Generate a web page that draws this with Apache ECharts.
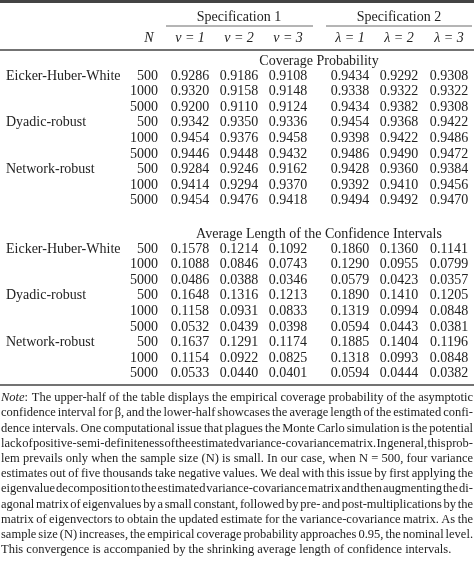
<!DOCTYPE html>
<html>
<head>
<meta charset="UTF-8">
<title>Coverage table</title>
<script src="https://cdn.jsdelivr.net/npm/echarts@6/dist/echarts.min.js"></script>
<style>body{margin:0;background:#fff}</style>
</head>
<body>
<div id="main" style="width:474px;height:568px;"></div>
<script type="text/javascript">
var estimators = ['Eicker-Huber-White', 'Dyadic-robust', 'Network-robust'];
var sizes = ['500', '1000', '5000'];
var colHeads = ['\u03bd = 1', '\u03bd = 2', '\u03bd = 3', '\u03bb = 1', '\u03bb = 2', '\u03bb = 3'];
var coverage = [
  ['0.9286','0.9186','0.9108','0.9434','0.9292','0.9308'],
  ['0.9320','0.9158','0.9148','0.9338','0.9322','0.9322'],
  ['0.9200','0.9110','0.9124','0.9434','0.9382','0.9308'],
  ['0.9342','0.9350','0.9336','0.9454','0.9368','0.9422'],
  ['0.9454','0.9376','0.9458','0.9398','0.9422','0.9486'],
  ['0.9446','0.9448','0.9432','0.9486','0.9490','0.9472'],
  ['0.9284','0.9246','0.9162','0.9428','0.9360','0.9384'],
  ['0.9414','0.9294','0.9370','0.9392','0.9410','0.9456'],
  ['0.9454','0.9476','0.9418','0.9494','0.9492','0.9470']
];
var avgLength = [
  ['0.1578','0.1214','0.1092','0.1860','0.1360','0.1141'],
  ['0.1088','0.0846','0.0743','0.1290','0.0955','0.0799'],
  ['0.0486','0.0388','0.0346','0.0579','0.0423','0.0357'],
  ['0.1648','0.1316','0.1213','0.1890','0.1410','0.1205'],
  ['0.1158','0.0931','0.0833','0.1319','0.0994','0.0848'],
  ['0.0532','0.0439','0.0398','0.0594','0.0443','0.0381'],
  ['0.1637','0.1291','0.1174','0.1885','0.1404','0.1196'],
  ['0.1154','0.0922','0.0825','0.1318','0.0993','0.0848'],
  ['0.0533','0.0440','0.0401','0.0594','0.0444','0.0382']
];
var noteLines = [
  'Note: The upper-half of the table displays the empirical coverage probability of the asymptotic',
  'confidence interval for \u03b2, and the lower-half showcases the average length of the estimated confi-',
  'dence intervals. One computational issue that plagues the Monte Carlo simulation is the potential',
  'lack of positive-semi-definiteness of the estimated variance-covariance matrix. In general, this prob-',
  'lem prevails only when the sample size (N) is small. In our case, when N = 500, four variance',
  'estimates out of five thousands take negative values. We deal with this issue by first applying the',
  'eigenvalue decomposition to the estimated variance-covariance matrix and then augmenting the di-',
  'agonal matrix of eigenvalues by a small constant, followed by pre- and post-multiplications by the',
  'matrix of eigenvectors to obtain the updated estimate for the variance-covariance matrix. As the',
  'sample size (N) increases, the empirical coverage probability approaches 0.95, the nominal level.',
  'This convergence is accompanied by the shrinking average length of confidence intervals.'
];

var font = '"Liberation Serif", "DejaVu Serif", serif';
var colX = [190, 239, 288, 350, 399, 449];
var rowStep = 15.6;
var g = [];
function txt(x, y, s, align, extra) {
  var st = { x: x, y: y, text: s, fill: '#222', font: '14px ' + font, textAlign: align || 'left', textVerticalAlign: 'middle' };
  if (extra) for (var k in extra) st[k] = extra[k];
  g.push({ type: 'text', style: st });
}
function rule(x1, x2, y, w) {
  g.push({ type: 'line', shape: { x1: x1, y1: y, x2: x2, y2: y }, style: { stroke: '#444', lineWidth: w } });
}
rule(0, 474, 1.5, 3);
txt(239, 17, 'Specification 1', 'center');
txt(399, 17, 'Specification 2', 'center');
rule(166, 313, 26, 0.8);
rule(326, 472, 26, 0.8);
txt(149, 38, 'N', 'center', { font: 'italic 14px ' + font });
colHeads.forEach(function (h, j) { txt(colX[j], 38, h, 'center', { font: 'italic 14px ' + font }); });
rule(0, 474, 50, 1.3);

function block(title, y0, data) {
  txt(319, y0, title, 'center');
  data.forEach(function (row, i) {
    var y = y0 + 15 + i * rowStep;
    if (i % 3 === 0) txt(6, y, estimators[i / 3]);
    txt(158, y, sizes[i % 3], 'right');
    row.forEach(function (v, j) { txt(colX[j], y, v, 'center'); });
  });
}
block('Coverage Probability', 61, coverage);
block('Average Length of the Confidence Intervals', 234, avgLength);
rule(0, 474, 385, 1.3);

// justified note paragraph
var ctx = document.createElement('canvas').getContext('2d');
var noteFont = '12.5px ' + font;
var left = 1, right = 473;
noteLines.forEach(function (line, i) {
  var y = 398 + i * 15.2;
  var words = line.split(' ');
  var widths = words.map(function (w, k) {
    ctx.font = (i === 0 && k === 0 ? 'italic ' : '') + noteFont;
    return ctx.measureText(w).width;
  });
  var total = widths.reduce(function (a, b) { return a + b; }, 0);
  ctx.font = noteFont;
  var gap = (i === noteLines.length - 1) ? ctx.measureText(' ').width : (right - left - total) / (words.length - 1);
  var x = left;
  words.forEach(function (w, k) {
    var f = noteFont;
    if (i === 0 && k === 0) {
      g.push({ type: 'text', style: { x: x, y: y, text: 'Note', font: 'italic ' + noteFont, fill: '#222', textVerticalAlign: 'middle' } });
      ctx.font = 'italic ' + noteFont;
      var nw = ctx.measureText('Note').width;
      g.push({ type: 'text', style: { x: x + nw, y: y, text: ':', font: noteFont, fill: '#222', textVerticalAlign: 'middle' } });
    } else {
      g.push({ type: 'text', style: { x: x, y: y, text: w, font: f, fill: '#222', textVerticalAlign: 'middle' } });
    }
    x += widths[k] + gap;
  });
});

var myChart = echarts.init(document.getElementById('main'));
myChart.setOption({ backgroundColor: '#fff', graphic: g });
</script>
</body>
</html>
